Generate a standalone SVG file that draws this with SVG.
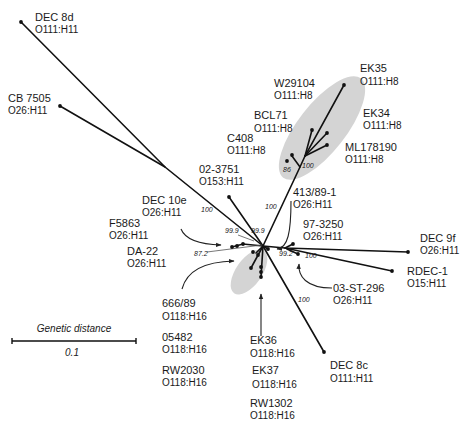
<svg xmlns="http://www.w3.org/2000/svg" width="474" height="431" viewBox="0 0 474 431">
<style>
.n{font-family:"Liberation Sans",Arial,sans-serif;font-size:11px;fill:#1a1a1a}
.s{font-family:"Liberation Sans",Arial,sans-serif;font-size:10px;fill:#1a1a1a}
.b{font-family:"Liberation Sans",Arial,sans-serif;font-size:7px;font-style:italic;fill:#1a1a1a}
.g{font-family:"Liberation Sans",Arial,sans-serif;font-size:10px;font-style:italic;fill:#1a1a1a}
.br{stroke:#111;stroke-width:1.6;fill:none;stroke-linecap:round}
.ar{stroke:#222;stroke-width:1.1;fill:none}
.ld{stroke:#555;stroke-width:0.8;fill:none}
.d{fill:#111}
.cl{fill:#d4d4d4}
</style>
<defs>
<marker id="ah" viewBox="0 0 10 10" refX="9" refY="5" markerWidth="5" markerHeight="5" orient="auto">
<path d="M0,1 L10,5 L0,9 Z" fill="#222"/>
</marker>
</defs>
<rect width="474" height="431" fill="#fff"/>
<g id="clusters">
<ellipse class="cl" cx="322" cy="128" rx="63" ry="24" transform="rotate(-52 322 128)"/>
<ellipse class="cl" cx="249" cy="272" rx="26" ry="13" transform="rotate(-55 249 272)"/>
</g>
<g id="connectors">
<path class="br" d="M21,22 L165,167 L263,246"/>
<path class="br" d="M60,106 L165,167"/>
<path class="br" d="M229,197 L263,246"/>
<path class="br" d="M263,246 L324,352"/>
<path class="br" d="M232,247 L243,244 L263,246"/>
<path class="br" d="M263,246 L300,167 L305,156 L344,85"/>
<path class="br" d="M305,156 L312,130"/>
<path class="br" d="M305,156 L327,133"/>
<path class="br" d="M305,156 L327,145"/>
<path class="br" d="M300,167 L292,156"/>
<path class="br" d="M263,246 L285,248 L408,252"/>
<path class="br" d="M285,248 L392,271"/>
<path class="br" d="M287,249 L298,254"/>
<path class="br" d="M285,248 L293,244"/>
<path class="br" d="M263,246 L251,268"/>
<path class="br" d="M263,246 L261,277"/>
<path class="br" d="M263,246 L256,253"/>
<path class="br" d="M263,246 L268,249"/>
<path class="ar" d="M181,229 Q187,244 221,245" marker-end="url(#ah)"/>
<path class="ar" d="M182,289 Q189,262 234,261" marker-end="url(#ah)"/>
<path class="ar" d="M291,201 C291,232 288,248 277,249" marker-end="url(#ah)"/>
<path class="ar" d="M332,288 C306,288 298,276 299,264" marker-end="url(#ah)"/>
<path class="ar" d="M261,336 L261,294" marker-end="url(#ah)"/>
<path class="ld" d="M238,235 L254,241"/>
<path class="ld" d="M207,252 L262,245"/>
</g>
<g id="bootstrap">
<text class="b" x="201" y="212">100</text>
<text class="b" x="225" y="233">99.9</text>
<text class="b" x="251" y="233">99.9</text>
<text class="b" x="194" y="256">87.2</text>
<text class="b" x="265" y="209">100</text>
<text class="b" x="283" y="172">86</text>
<text class="b" x="302" y="168">100</text>
<text class="b" x="279" y="256">99.2</text>
<text class="b" x="305" y="258">100</text>
<text class="b" x="298" y="302">100</text>
</g>
<g id="n-dec8d"><circle class="d" cx="21" cy="22" r="1.9"/><text class="n" x="35" y="21">DEC 8d</text><text class="s" x="35" y="33">O111:H11</text></g>
<g id="n-cb7505"><circle class="d" cx="60" cy="106" r="1.9"/><text class="n" x="8" y="102">CB 7505</text><text class="s" x="8" y="114">O26:H11</text></g>
<g id="n-ek35"><circle class="d" cx="344" cy="85" r="1.9"/><text class="n" x="360" y="72">EK35</text><text class="s" x="360" y="85">O111:H8</text></g>
<g id="n-w29104"><circle class="d" cx="312" cy="130" r="1.9"/><text class="n" x="274" y="87">W29104</text><text class="s" x="274" y="99">O111:H8</text></g>
<g id="n-ek34"><circle class="d" cx="327" cy="133" r="1.9"/><text class="n" x="363" y="117">EK34</text><text class="s" x="363" y="129">O111:H8</text></g>
<g id="n-bcl71"><circle class="d" cx="292" cy="155" r="1.9"/><text class="n" x="254" y="119">BCL71</text><text class="s" x="254" y="132">O111:H8</text></g>
<g id="n-c408"><circle class="d" cx="287" cy="161" r="1.9"/><text class="n" x="227" y="142">C408</text><text class="s" x="227" y="154">O111:H8</text></g>
<g id="n-ml178190"><circle class="d" cx="327" cy="145" r="1.9"/><text class="n" x="345" y="151">ML178190</text><text class="s" x="345" y="163">O111:H8</text></g>
<g id="n-023751"><circle class="d" cx="229" cy="197" r="1.9"/><text class="n" x="199" y="173">02-3751</text><text class="s" x="199" y="185">O153:H11</text></g>
<g id="n-413891"><circle class="d" cx="268" cy="249" r="1.9"/><text class="n" x="293" y="196">413/89-1</text><text class="s" x="293" y="208">O26:H11</text></g>
<g id="n-dec10e"><circle class="d" cx="232" cy="247" r="1.9"/><text class="n" x="142" y="204">DEC 10e</text><text class="s" x="142" y="216">O26:H11</text></g>
<g id="n-f5863"><circle class="d" cx="237" cy="246" r="1.9"/><text class="n" x="109" y="227">F5863</text><text class="s" x="109" y="239">O26:H11</text></g>
<g id="n-da22"><circle class="d" cx="243" cy="244" r="1.9"/><text class="n" x="127" y="255">DA-22</text><text class="s" x="127" y="267">O26:H11</text></g>
<g id="n-973250"><circle class="d" cx="293" cy="244" r="1.9"/><text class="n" x="303" y="228">97-3250</text><text class="s" x="303" y="240">O26:H11</text></g>
<g id="n-dec9f"><circle class="d" cx="408" cy="252" r="1.9"/><text class="n" x="420" y="242">DEC 9f</text><text class="s" x="420" y="254">O26:H11</text></g>
<g id="n-rdec1"><circle class="d" cx="392" cy="271" r="1.9"/><text class="n" x="407" y="275">RDEC-1</text><text class="s" x="407" y="287">O15:H11</text></g>
<g id="n-03st296"><circle class="d" cx="298" cy="254" r="1.9"/><text class="n" x="333" y="292">03-ST-296</text><text class="s" x="333" y="304">O26:H11</text></g>
<g id="n-66689"><circle class="d" cx="251" cy="268" r="1.9"/><text class="n" x="162" y="307">666/89</text><text class="s" x="162" y="320">O118:H16</text></g>
<g id="n-05482"><circle class="d" cx="253" cy="252" r="1.9"/><text class="n" x="162" y="341">05482</text><text class="s" x="162" y="353">O118:H16</text></g>
<g id="n-rw2030"><circle class="d" cx="258" cy="255" r="1.9"/><text class="n" x="162" y="374">RW2030</text><text class="s" x="162" y="386">O118:H16</text></g>
<g id="n-ek36"><circle class="d" cx="261" cy="267" r="1.9"/><text class="n" x="250" y="344">EK36</text><text class="s" x="250" y="357">O118:H16</text></g>
<g id="n-ek37"><circle class="d" cx="261" cy="272" r="1.9"/><text class="n" x="252" y="374">EK37</text><text class="s" x="252" y="388">O118:H16</text></g>
<g id="n-rw1302"><circle class="d" cx="261" cy="277" r="1.9"/><text class="n" x="250" y="407">RW1302</text><text class="s" x="250" y="419">O118:H16</text></g>
<g id="n-dec8c"><circle class="d" cx="324" cy="352" r="1.9"/><text class="n" x="330" y="369">DEC 8c</text><text class="s" x="330" y="382">O111:H11</text></g>
<g id="scale">
<text class="g" x="74" y="332" text-anchor="middle">Genetic distance</text>
<path d="M12,341 L136,341 M12,338 L12,344 M136,338 L136,344" stroke="#111" stroke-width="1.4" fill="none"/>
<text class="g" x="72" y="356" text-anchor="middle">0.1</text>
</g>
</svg>
